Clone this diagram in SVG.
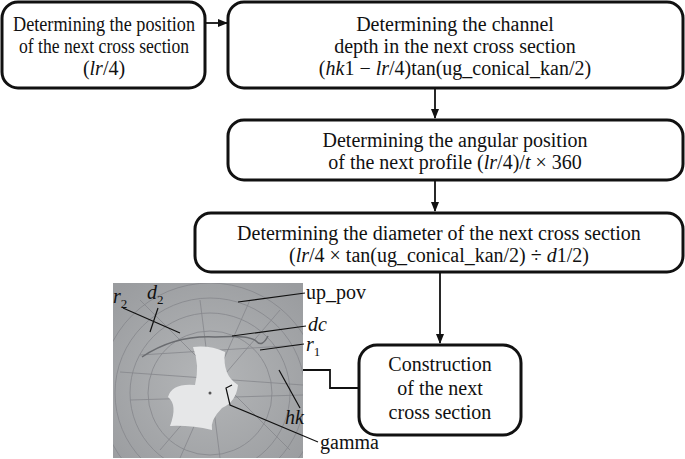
<svg xmlns="http://www.w3.org/2000/svg" width="685" height="459" viewBox="0 0 685 459" font-family="'Times New Roman','Liberation Serif','DejaVu Serif',serif">
<defs>
<marker id="ah" markerWidth="10" markerHeight="10" refX="9" refY="5" orient="auto" markerUnits="userSpaceOnUse"><path d="M0,1 L10,5 L0,9 Z" fill="#111"/></marker>
<radialGradient id="bg" cx="0.5" cy="0.55" r="0.7"><stop offset="0" stop-color="#b4b6b8"/><stop offset="1" stop-color="#9a9c9f"/></radialGradient>
<clipPath id="clip"><rect x="113" y="283" width="190" height="175"/></clipPath>
</defs>
<style>
.box{fill:#fff;stroke:#111;stroke-width:3}
text{font-family:"Times New Roman","Liberation Serif","DejaVu Serif",serif;font-size:20px;fill:#111}
.c{text-anchor:middle}
.con{fill:none;stroke:#111;stroke-width:1.8}
.thin{fill:none;stroke:#85878b;stroke-width:0.8}
.lead{fill:none;stroke:#111;stroke-width:1.2}
</style>
<g id="picture" clip-path="url(#clip)">
<rect x="113" y="283" width="190" height="175" fill="url(#bg)"/>
<circle cx="210" cy="393" r="95" class="thin"/>
<circle cx="210" cy="393" r="80" class="thin"/>
<circle cx="210" cy="393" r="62" class="thin"/>
<circle cx="210" cy="393" r="110" class="thin"/>
<path d="M140,355 L300,345 M120,372 L303,385 M130,400 L303,395 M200,300 L220,458 M250,300 L180,458 M140,300 L290,450 M160,450 L280,310" class="thin"/>
<path d="M142,357 Q175,335 215,337 Q250,335 256,341 Q262,348 268,336" fill="none" stroke="#6a6c70" stroke-width="1.5"/>
<path d="M193,347 Q210,345 225,352 Q222,375 238,385 Q236,402 222,408 Q210,420 212,430 Q190,425 170,426 Q178,405 168,397 Q172,383 195,385 Q200,365 193,347 Z" fill="#e6e7e8"/>
<circle cx="210" cy="393" r="1.5" fill="#555"/>
</g>
<g id="labels">
<text x="113" y="303" font-style="italic">r<tspan font-size="13" dy="5" font-style="normal">2</tspan></text>
<text x="147" y="299" font-style="italic">d<tspan font-size="13" dy="5" font-style="normal">2</tspan></text>
<text x="306" y="299">up_pov</text>
<text x="308" y="331" font-style="italic">dc</text>
<text x="306" y="351" font-style="italic">r<tspan font-size="13" dy="5" font-style="normal">1</tspan></text>
<text x="285" y="424" font-style="italic">hk</text>
<text x="320" y="449">gamma</text>
<path class="lead" d="M123,308 L180,333 M158,308 L150,332 M305,293 L238,302 M306,326 L232,336 M304,344 L260,350 M300,408 L279,370 M318,442 L230,405 L226,388 L232,385"/>
</g>
<g id="n1"><rect class="box" x="2" y="2" width="203" height="86" rx="16"/>
<text class="c" x="104" y="31" textLength="182" lengthAdjust="spacingAndGlyphs">Determining the position</text><text class="c" x="104" y="53" textLength="170" lengthAdjust="spacingAndGlyphs">of the next cross section</text><text class="c" x="104" y="75">(<tspan font-style="italic">lr</tspan>/4)</text></g>
<g id="n2"><rect class="box" x="228" y="2" width="455" height="86" rx="16"/>
<text class="c" x="455" y="31">Determining the channel</text><text class="c" x="455" y="53">depth in the next cross section</text><text class="c" x="455" y="75">(<tspan font-style="italic">hk</tspan>1 − <tspan font-style="italic">lr</tspan>/4)tan(ug_conical_kan/2)</text></g>
<g id="n3"><rect class="box" x="228" y="120" width="455" height="60" rx="16"/>
<text class="c" x="455" y="147">Determining the angular position</text><text class="c" x="455" y="169">of the next profile (<tspan font-style="italic">lr</tspan>/4)/<tspan font-style="italic">t</tspan> × 360</text></g>
<g id="n4"><rect class="box" x="195" y="213" width="488" height="59" rx="16"/>
<text class="c" x="439" y="240">Determining the diameter of the next cross section</text><text class="c" x="439" y="262">(<tspan font-style="italic">lr</tspan>/4 × tan(ug_conical_kan/2) ÷ <tspan font-style="italic">d</tspan>1/2)</text></g>
<g id="n5"><rect class="box" x="359" y="345" width="162" height="90" rx="18"/>
<text class="c" x="440" y="371">Construction</text><text class="c" x="440" y="395">of the next</text><text class="c" x="440" y="419">cross section</text></g>
<g id="connectors">
<path class="con" d="M205,23 L227,23" marker-end="url(#ah)"/>
<path class="con" d="M435,88 L435,118" marker-end="url(#ah)"/>
<path class="con" d="M435,180 L435,211" marker-end="url(#ah)"/>
<path class="con" d="M440,272 L440,343" marker-end="url(#ah)"/>
<path class="con" d="M359,388 L330,388 L330,370 L303,370"/>
</g>
</svg>
